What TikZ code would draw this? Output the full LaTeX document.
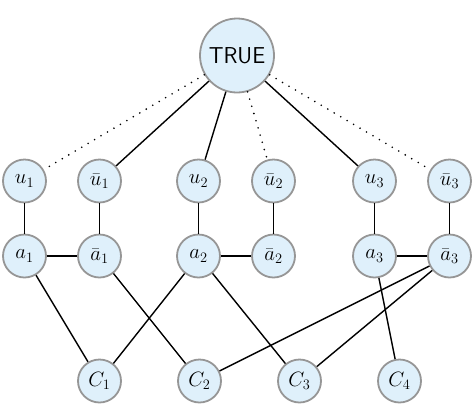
\documentclass[tikz,border=0pt]{standalone}
\usepackage{amsmath}
\definecolor{nodefill}{HTML}{DFF0FB}
\definecolor{nodeline}{HTML}{969696}
\begin{document}
\begin{tikzpicture}[x=1pt,y=-1pt,
  vert/.style={circle,draw=nodeline,fill=nodefill,line width=1.8pt,minimum size=43pt,inner sep=0pt,font=\fontsize{21}{25}\selectfont},
  top/.style={vert,minimum size=74pt,font=\fontsize{23}{27}\selectfont\sffamily},
  edge/.style={line width=1.4pt},
  dot/.style={line width=1.8pt,dash pattern=on 0pt off 7.5pt,line cap=round}]
\useasboundingbox (0,0) rectangle (474,405);
\node[top] (T) at (237,55.5) {TRUE};
\node[vert] (u1) at (24.5,181) {$u_1$};
\node[vert] (nu1) at (99.5,181) {$\bar u_1$};
\node[vert] (u2) at (198.5,181) {$u_2$};
\node[vert] (nu2) at (273.5,181) {$\bar u_2$};
\node[vert] (u3) at (374.5,181) {$u_3$};
\node[vert] (nu3) at (449.5,181) {$\bar u_3$};
\node[vert] (a1) at (24.5,256) {$a_1$};
\node[vert] (na1) at (99.5,256) {$\bar a_1$};
\node[vert] (a2) at (198.5,256) {$a_2$};
\node[vert] (na2) at (273.5,256) {$\bar a_2$};
\node[vert] (a3) at (374.5,256) {$a_3$};
\node[vert] (na3) at (449.5,256) {$\bar a_3$};
\node[vert] (c1) at (99.5,381) {$C_1$};
\node[vert] (c2) at (199.5,381) {$C_2$};
\node[vert] (c3) at (299.5,381) {$C_3$};
\node[vert] (c4) at (399.5,381) {$C_4$};
\draw[dot] (T) -- (u1);
\draw[dot] (T) -- (nu2);
\draw[dot] (T) -- (nu3);
\draw[edge] (T) -- (nu1);
\draw[edge] (T) -- (u2);
\draw[edge] (T) -- (u3);
\draw[edge] (u1) -- (a1);
\draw[edge] (nu1) -- (na1);
\draw[edge] (u2) -- (a2);
\draw[edge] (nu2) -- (na2);
\draw[edge] (u3) -- (a3);
\draw[edge] (nu3) -- (na3);
\draw[edge] (a1) -- (na1);
\draw[edge] (a2) -- (na2);
\draw[edge] (a3) -- (na3);
\draw[edge] (a1) -- (c1);
\draw[edge] (na1) -- (c2);
\draw[edge] (a2) -- (c1);
\draw[edge] (a2) -- (c3);
\draw[edge] (na3) -- (c2);
\draw[edge] (na3) -- (c3);
\draw[edge] (a3) -- (c4);
\end{tikzpicture}
\end{document}
